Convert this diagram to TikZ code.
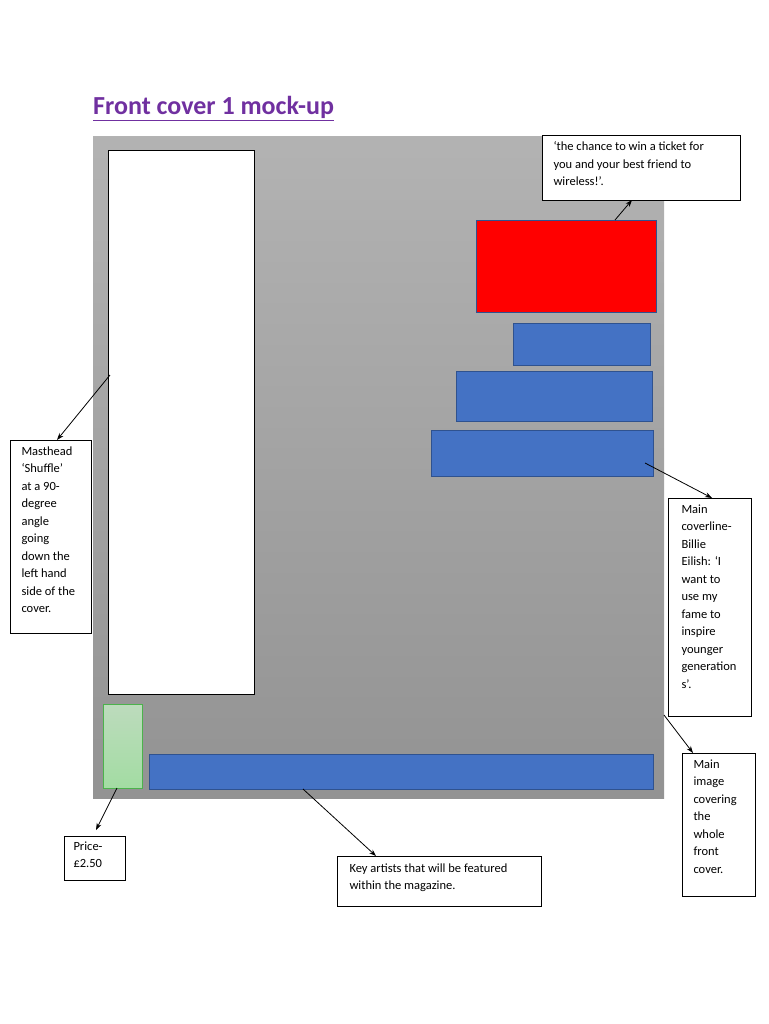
\documentclass[tikz,border=0pt]{standalone}
\usepackage{fontspec}
\setmainfont{Carlito}
\usetikzlibrary{arrows.meta}
\definecolor{ttl}{HTML}{7030A0}
\definecolor{blu}{HTML}{4472C4}
\definecolor{bld}{HTML}{2F528F}
\begin{document}
\begin{tikzpicture}[x=1pt,y=-1pt,
  blk/.style={fill=blu,draw=bld,line width=0.8pt},
  call/.style={draw=black,fill=white,line width=0.8pt,inner sep=0pt},
  ct/.style={font=\fontsize{12.5}{17.5}\selectfont,align=left,anchor=north west},
  arr/.style={-{Stealth[length=7pt,width=5pt]},line width=0.8pt}]
\useasboundingbox (0,0) rectangle (768,1024);
\node[font=\fontsize{26}{30}\selectfont\bfseries,text=ttl,anchor=base west,inner sep=0pt] (title) at (93,115) {\underline{Front cover 1 mock-up}};
\shade[top color=gray!60,bottom color=gray!85] (93,137) rectangle (664,798);
\coordinate (bg) at (664,715);
\draw[fill=white,line width=0.8pt] (108,150) rectangle (254,694);
\coordinate (mast) at (110,375);
\draw[fill=red,draw=bld,line width=0.8pt] (476,220) rectangle (656,312);
\coordinate (red) at (615,220);
\draw[blk] (513,323) rectangle (650,365);
\draw[blk] (456,371) rectangle (652,421);
\draw[blk] (431,430) rectangle (653,476);
\coordinate (cov) at (645,463);
\draw[blk] (149,754) rectangle (653,789);
\coordinate (key) at (303,789);
\shade[top color=green!30!gray!40!white,bottom color=green!45!gray!50!white,draw=green!50!black!60] (103,704) rectangle (142,788);
\draw[green!40!gray] (103,704) rectangle (142,788);
\coordinate (pr) at (117,788);

\draw[call] (542,135) rectangle (740,200);
\node[ct] (t1) at (550,138) {‘the chance to win a ticket for\\you and your best friend to\\wireless!’.};
\coordinate (b1) at (632,200);
\draw[call] (10,440) rectangle (91,633);
\node[ct] (t2) at (18,443) {Masthead\\‘Shuffle’\\at a 90-\\degree\\angle\\going\\down the\\left hand\\side of the\\cover.};
\coordinate (b2) at (57,440);
\draw[call] (668,498) rectangle (751,716);
\node[ct] (t3) at (678,501) {Main\\coverline-\\Billie\\Eilish: ‘I\\want to\\use my\\fame to\\inspire\\younger\\generation\\s’.};
\coordinate (b3) at (712,498);
\draw[call] (682,753) rectangle (755,896);
\node[ct] (t4) at (690,756) {Main\\image\\covering\\the\\whole\\front\\cover.};
\coordinate (b4) at (693,753);
\draw[call] (64,836) rectangle (125,880);
\node[ct] (t5) at (70,838) {Price-\\£2.50};
\coordinate (b5) at (96,830);
\draw[call] (337,856) rectangle (541,906);
\node[ct] (t6) at (346,860) {Key artists that will be featured\\within the magazine.};
\coordinate (b6) at (376,856);

\draw[arr] (red) -- (b1);
\draw[arr] (mast) -- (b2);
\draw[arr] (cov) -- (b3);
\draw[arr] (bg) -- (b4);
\draw[arr] (pr) -- (b5);
\draw[arr] (key) -- (b6);
\end{tikzpicture}
\end{document}
